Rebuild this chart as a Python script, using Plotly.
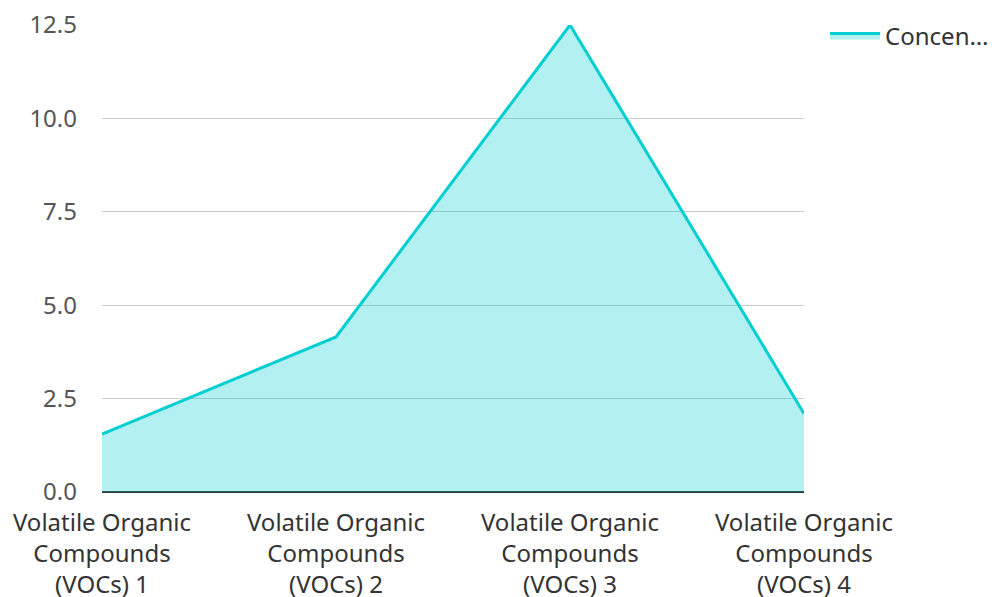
import plotly.graph_objects as go

categories = ["Volatile Organic<br>Compounds<br>(VOCs) 1",
              "Volatile Organic<br>Compounds<br>(VOCs) 2",
              "Volatile Organic<br>Compounds<br>(VOCs) 3",
              "Volatile Organic<br>Compounds<br>(VOCs) 4"]
values = [1.55, 4.15, 12.5, 2.1]
series_name = "Concen…"
y_ticks = [0, 2.5, 5, 7.5, 10, 12.5]
y_tick_labels = ["0.0", "2.5", "5.0", "7.5", "10.0", "12.5"]

fig = go.Figure()
fig.add_trace(go.Scatter(
    x=categories, y=values, name=series_name, mode="lines",
    line=dict(color="#00CED1", width=3),
    fill="tozeroy", fillcolor="rgba(0,206,209,0.3)",
))

fig.update_layout(
    width=994, height=597,
    margin=dict(l=102, r=190, t=25, b=105, pad=0, autoexpand=False),
    plot_bgcolor="white", paper_bgcolor="white",
    font=dict(family="Noto Sans", size=24, color="#333333"),
    showlegend=True,
    legend=dict(x=1.03, xanchor="left", y=1.025, yanchor="top",
                font=dict(size=24, color="#333333"), itemwidth=50),
    xaxis=dict(type="category", range=[0, 3], showgrid=False, automargin=False,
               showline=False, ticks="", ticklabelstandoff=14,
               tickfont=dict(size=24, color="#333333"),
               zeroline=False),
    yaxis=dict(range=[0, 12.5], tickvals=y_ticks, ticktext=y_tick_labels,
               showgrid=True, gridcolor="#cccccc", gridwidth=1, automargin=False,
               zeroline=True, zerolinecolor="#333333", zerolinewidth=2,
               showline=False, ticks="", ticklabelstandoff=24,
               tickfont=dict(size=24, color="#555555")),
)

fig.write_html("out.html", config={"displayModeBar": False},
               post_script="document.body.style.margin='0';")
